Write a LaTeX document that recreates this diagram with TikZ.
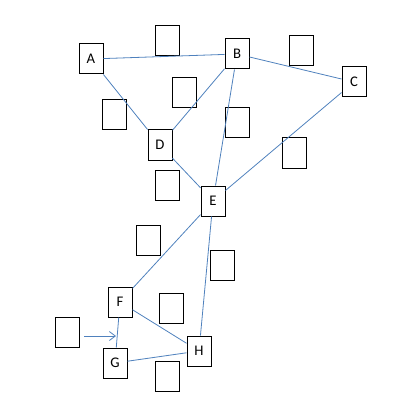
\documentclass[tikz,border=0pt]{standalone}
\usepackage{fontspec}
\setmainfont{Carlito}
\usepackage{tikz}
\usetikzlibrary{arrows.meta}

\definecolor{edgeblue}{RGB}{79,129,189}
\tikzset{
  vert/.style={draw, line width=1pt, minimum width=24pt, minimum height=30pt,
    inner sep=0pt, font=\fontsize{14.7}{16}\selectfont},
  blank/.style={vert},
  link/.style={edgeblue, line width=0.8pt}
}

\begin{document}
\begin{tikzpicture}[x=1pt, y=-1pt, >={Straight Barb[length=6pt,width=9pt]}]
  \useasboundingbox (0,0) rectangle (402,414);
  % labelled vertices
  \node [vert] (A) at (91,59) {A};
  \node [vert] (B) at (237,54) {B};
  \node [vert] (C) at (354,82) {C};
  \node [vert] (D) at (160,145) {D};
  \node [vert] (E) at (213,201) {E};
  \node [vert] (F) at (120,302) {F};
  \node [vert] (G) at (115,363) {G};
  \node [vert] (H) at (199,351) {H};
  % empty boxes
  \node [blank] (b1) at (167,41) {};
  \node [blank] (b2) at (301,51) {};
  \node [blank] (b3) at (184,93) {};
  \node [blank] (b4) at (114,115) {};
  \node [blank] (b5) at (237,123) {};
  \node [blank] (b6) at (294,153) {};
  \node [blank] (b7) at (167,185) {};
  \node [blank] (b8) at (148,240) {};
  \node [blank] (b9) at (222,265) {};
  \node [blank] (b10) at (171,308) {};
  \node [blank] (b11) at (67,332) {};
  \node [blank] (b12) at (167,376) {};
  % edges
  \draw [link] (A) -- (B);
  \draw [link] (A) -- (D);
  \draw [link] (B) -- (D);
  \draw [link] (B) -- (C);
  \draw [link] (B) -- (E);
  \draw [link] (C) -- (E);
  \draw [link] (D) -- (E);
  \draw [link] (E) -- (F);
  \draw [link] (E) -- (H);
  \draw [link] (F) -- (G);
  \draw [link] (F) -- (H);
  \draw [link] (G) -- (H);
  % arrow
  \coordinate (tail) at (84,336);
  \coordinate (tip) at (116,336);
  \draw [link, ->] (tail) -- (tip);
\end{tikzpicture}
\end{document}
